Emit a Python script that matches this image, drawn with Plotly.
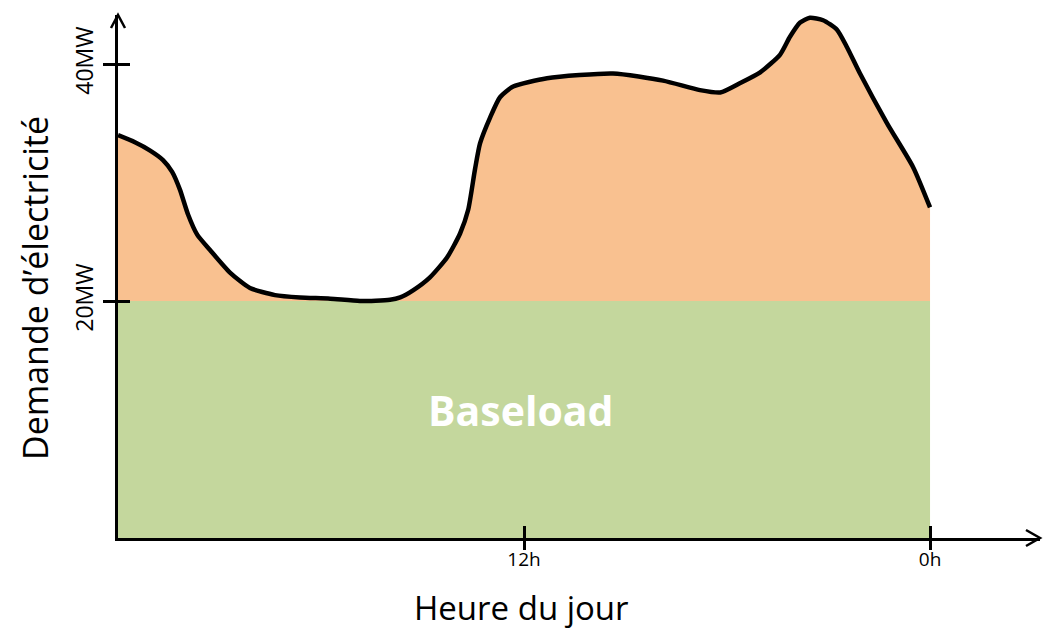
import plotly.graph_objects as go

# demand curve (hours, MW)
hours = [0.0, 0.5, 0.95, 1.33, 1.6, 1.83, 2.07, 2.34, 2.72, 3.31, 3.9, 4.64, 5.38,
         6.27, 7.15, 8.04, 8.34, 8.72, 9.22, 9.73, 10.11, 10.35, 10.55, 10.7, 11.0,
         11.29, 11.68, 12.68, 14.63, 16.11, 17.2, 17.8, 18.39, 18.98, 19.57, 19.86,
         20.16, 20.45, 20.84, 21.25, 21.55, 21.93, 22.73, 23.5, 24.0]
demand = [34.0, 33.4, 32.7, 31.9, 30.9, 29.4, 27.3, 25.6, 24.3, 22.4, 21.1, 20.5, 20.3,
          20.2, 20.0, 20.1, 20.3, 20.9, 22.0, 23.7, 25.7, 27.7, 31.1, 33.3, 35.5,
          37.2, 38.1, 38.8, 39.2, 38.6, 37.8, 37.6, 38.4, 39.3, 40.8, 42.3,
          43.5, 43.9, 43.7, 42.9, 41.4, 39.2, 35.0, 31.3, 27.9]

base_hours = [0, 24]
base_level = [20, 20]

x_ticks = [12, 24]
x_labels = ["12h", "0h"]
y_ticks = [20, 40]
y_labels = ["20MW", "40MW"]

FONT = "Open Sans"
ORANGE = "#F9C190"
GREEN = "#C4D79D"

fig = go.Figure()
fig.add_trace(go.Scatter(x=base_hours, y=base_level, mode="lines", line=dict(width=0, color=GREEN),
                         fill="tozeroy", fillcolor=GREEN, hoverinfo="skip", showlegend=False))
fig.add_trace(go.Scatter(x=hours, y=demand, mode="lines",
                         line=dict(color="black", width=4.5, shape="spline", smoothing=0.6),
                         fill="tonexty", fillcolor=ORANGE, showlegend=False))
# helper trace so the overlay axes (other half of the cross ticks) get drawn
fig.add_trace(go.Scatter(x=base_hours, y=base_level, xaxis="x2", yaxis="y2", mode="markers",
                         marker=dict(opacity=0), hoverinfo="skip", showlegend=False))

fig.add_annotation(x=11.9, y=10.8, text="<b>Baseload</b>", showarrow=False,
                   font=dict(family=FONT, size=41, color="white"))
fig.add_annotation(xref="paper", yref="paper", x=-0.09, y=0.478, xanchor="center", yanchor="middle",
                   text="Demande d’électricité", textangle=-90, showarrow=False,
                   font=dict(family=FONT, size=34, color="black"))
fig.add_annotation(xref="paper", yref="paper", x=0.438, y=-0.132, xanchor="center", yanchor="middle",
                   text="Heure du jour", showarrow=False,
                   font=dict(family=FONT, size=33, color="black"))

# open arrow heads at the axis ends
fig.add_shape(type="path", xref="paper", yref="paper", xsizemode="pixel", ysizemode="pixel",
              xanchor=1, yanchor=0, path="M -14,8 L 0,0 L -14,-8", line=dict(color="black", width=2.5))
fig.add_shape(type="path", xref="paper", yref="paper", xsizemode="pixel", ysizemode="pixel",
              xanchor=0, yanchor=1, path="M -7,-13 L 0,0 L 7,-13", line=dict(color="black", width=2.5))

# the page body adds an 8px offset, so the figure is a bit smaller than the window
fig.update_layout(
    width=1047, height=630,
    margin=dict(l=110, r=15, t=7, b=100, autoexpand=False),
    plot_bgcolor="white", paper_bgcolor="white",
    font=dict(family=FONT, size=19, color="black"),
    xaxis=dict(range=[0, 27.25], showgrid=False, zeroline=False, showline=True, linecolor="black",
               linewidth=2.5, tickvals=x_ticks, ticktext=x_labels, ticks="inside", ticklen=12,
               tickwidth=2.5, tickcolor="black", tickfont=dict(size=19), ticklabelstandoff=2,
               fixedrange=True, automargin=False),
    yaxis=dict(range=[0, 44.14], showgrid=False, zeroline=False, showline=True, linecolor="black",
               linewidth=2.5, tickvals=y_ticks, ticktext=y_labels, ticks="outside", ticklen=12,
               tickwidth=2.5, tickcolor="black", tickangle=-90, ticklabelstandoff=1,
               tickfont=dict(size=23), fixedrange=True, automargin=False),
    xaxis2=dict(overlaying="x", matches="x", anchor="y", showgrid=False, zeroline=False,
                showline=False, tickvals=x_ticks, ticks="outside", ticklen=11, tickwidth=2.5,
                tickcolor="black", showticklabels=False, fixedrange=True),
    yaxis2=dict(overlaying="y", matches="y", anchor="x", showgrid=False, zeroline=False,
                showline=False, tickvals=y_ticks, ticks="inside", ticklen=12, tickwidth=2.5,
                tickcolor="black", showticklabels=False, fixedrange=True),
)

fig.write_html("out.html")
